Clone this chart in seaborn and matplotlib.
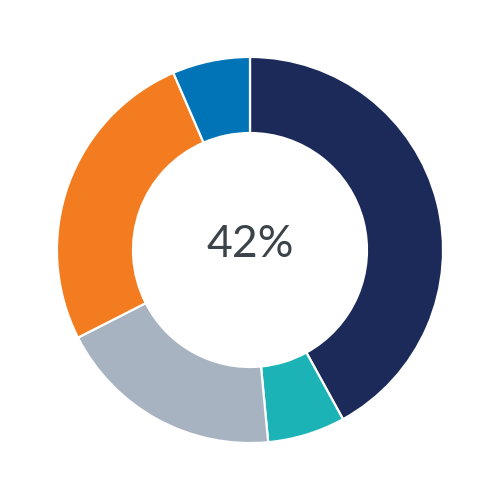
import matplotlib
matplotlib.use("Agg")
import matplotlib.pyplot as plt
import seaborn as sns

# slice values (percent), clockwise from 12 o'clock
labels = ["Navy", "Teal", "Gray", "Orange", "Blue"]
values = [42, 6.5, 19, 26, 6.5]
colors = ["#1b2a59", "#1bb3b5", "#a8b3c1", "#f47c20", "#0074b7"]
center_text = "42%"

sns.set_theme(style="white")
plt.rcParams["font.family"] = ["Lato", "DejaVu Sans"]

fig = plt.figure(figsize=(5, 5), dpi=100)
ax = fig.add_axes([0, 0, 1, 1])

ax.pie(values, colors=colors, startangle=90, counterclock=False,
       radius=1.0,
       wedgeprops=dict(width=0.394, edgecolor="white", linewidth=1.6))

ax.text(0, 0.03, center_text, ha="center", va="center",
        fontsize=32, color="#3d4449", fontweight="normal")

ax.set_xlim(-1.295, 1.295)
ax.set_ylim(-1.295, 1.295)
ax.set_aspect("equal")
ax.axis("off")

fig.savefig("out.png", dpi=100, facecolor="white")
